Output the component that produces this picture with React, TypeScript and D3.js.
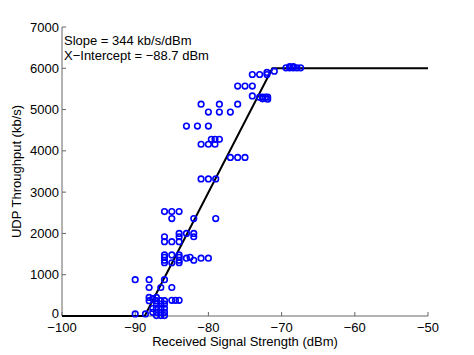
import React from "react";
import * as d3 from "d3";

const xTicks = [-100, -90, -80, -70, -60, -50];
const yTicks = [0, 1000, 2000, 3000, 4000, 5000, 6000, 7000];

const signalDbm = [
  -90.0, -88.6,
  -90.0, -88.1, -86.0,
  -88.1, -86.5, -85.0,
  -88.1, -87.6, -87.1,
  -88.1, -87.1,
  -85.0, -84.5, -84.0,
  -87.1, -86.5, -86.0, -87.1, -86.5, -86.0, -87.1, -86.5, -86.0, -87.1, -86.5, -86.0, -86.5, -86.0, -87.6, -87.6,
  -86.0, -86.0, -86.0, -86.0,
  -85.0, -85.0,
  -84.0, -84.0, -84.0, -84.0,
  -83.0, -82.5, -82.0, -81.0, -80.0,
  -86.0, -86.0, -85.0,
  -84.0, -84.0, -84.0,
  -83.0, -82.0, -82.0,
  -86.0, -85.0, -84.0, -85.0,
  -82.0, -79.0,
  -81.0, -80.0, -79.0,
  -77.0, -76.0, -75.0,
  -81.0, -80.0, -79.1,
  -79.6, -79.1, -78.5,
  -83.0, -81.5, -80.0,
  -80.0, -78.5, -77.0,
  -81.0, -78.5, -76.0,
  -76.0, -75.0, -74.0,
  -74.0,
  -73.0, -72.6, -72.2, -71.9, -71.9, -72.6,
  -74.0, -73.0, -72.0, -72.0, -71.0,
  -69.4, -68.9, -68.4, -67.9, -67.4, -68.9, -68.4,
];

const throughputKbps = [
  50, 50,
  880, 880, 880,
  690, 690, 690,
  450, 420, 450,
  370, 370,
  380, 380, 380,
  290, 290, 290, 190, 190, 190, 90, 90, 90, 10, 10, 10, 370, 370, 180, 90,
  1480, 1420, 1350, 1290,
  1480, 1290,
  1480, 1420, 1350, 1290,
  1400, 1420, 1350, 1400, 1400,
  1920, 1800, 1800,
  2000, 1920, 1800,
  2000, 2000, 1920,
  2530, 2530, 2530, 2360,
  2360, 2360,
  3320, 3320, 3320,
  3840, 3840, 3840,
  4160, 4160, 4160,
  4280, 4280, 4280,
  4600, 4600, 4600,
  4940, 4940, 4940,
  5130, 5130, 5130,
  5570, 5570, 5570,
  5330,
  5300, 5260, 5300, 5300, 5250, 5300,
  5850, 5850, 5850, 5900, 5930,
  6010, 6010, 6010, 6010, 6010, 6040, 6040,
];

const slope = 344;
const xIntercept = -88.7;
const maxThroughput = 6000;
const fitX = [-100, xIntercept, xIntercept + maxThroughput / slope, -50];
const fitY = [0, 0, maxThroughput, maxThroughput];

export default function App() {
  const width = 474;
  const height = 355;
  const x = d3.scaleLinear().domain([-100, -50]).range([62, 428]);
  const y = d3.scaleLinear().domain([0, 7000]).range([316, 27]);
  const font = "'Liberation Sans', Arial, Helvetica, sans-serif";
  const axisColor = "#666";
  const line = d3
    .line<number>()
    .x((d) => x(d))
    .y((_, i) => y(fitY[i]));

  return (
    <svg
      width={width}
      height={height}
      style={{ position: "absolute", left: 0, top: 0, background: "#fff" }}
      fontFamily={font}
    >
      <rect x={0} y={0} width={width} height={height} fill="#fff" />
      <line x1={x(-100)} x2={x(-50)} y1={y(0)} y2={y(0)} stroke={axisColor} strokeWidth={1} />
      <line x1={x(-100)} x2={x(-100)} y1={y(0)} y2={y(7000)} stroke={axisColor} strokeWidth={1} />
      {xTicks.map((t) => (
        <g key={"xt" + t}>
          <line x1={x(t)} x2={x(t)} y1={y(0)} y2={y(0) - 4} stroke={axisColor} />
          <text x={x(t)} y={y(0) + 16} textAnchor="middle" fontSize={13} fill="#000">
            {t < 0 ? "\u2212" + Math.abs(t) : t}
          </text>
        </g>
      ))}
      {yTicks.map((t) => (
        <g key={"yt" + t}>
          <line x1={x(-100)} x2={x(-100) + 4} y1={y(t)} y2={y(t)} stroke={axisColor} />
          <text x={x(-100) - 3} y={y(t) - (t === 0 ? 3 : 0)} dy="0.35em" textAnchor="end" fontSize={13} fill="#000">
            {t}
          </text>
        </g>
      ))}
      <path d={line(fitX) || ""} fill="none" stroke="#000" strokeWidth={2} />
      {signalDbm.map((sx, i) => (
        <circle
          key={"p" + i}
          cx={x(sx)}
          cy={y(throughputKbps[i])}
          r={2.8}
          fill="none"
          stroke="#0000ff"
          strokeWidth={1.6}
        />
      ))}
      <text x={64} y={45} fontSize={13} fill="#000">
        Slope = 344 kb/s/dBm
      </text>
      <text x={64} y={60} fontSize={13} fill="#000">
        X{"\u2212"}Intercept = {"\u2212"}88.7 dBm
      </text>
      <text x={(x(-100) + x(-50)) / 2} y={346} textAnchor="middle" fontSize={13} fill="#000">
        Received Signal Strength (dBm)
      </text>
      <text
        transform={`translate(21,${(y(0) + y(7000)) / 2}) rotate(-90)`}
        textAnchor="middle"
        fontSize={13}
        fill="#000"
      >
        UDP Throughput (kb/s)
      </text>
    </svg>
  );
}
